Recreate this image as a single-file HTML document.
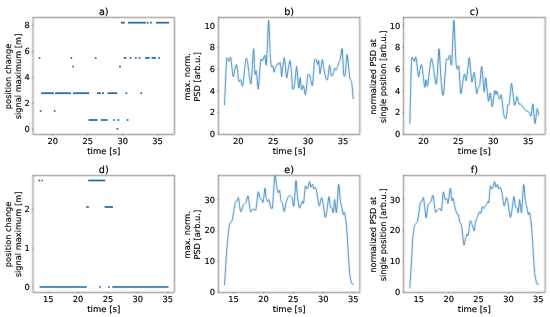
<!DOCTYPE html>
<html><head><meta charset="utf-8"><style>
html,body{margin:0;padding:0;background:#fff;}
body{width:550px;height:317px;overflow:hidden;}
svg{display:block;}
.sp{fill:none;stroke:#000;stroke-width:0.5;}
.tk{stroke:#000;stroke-width:0.6;}
.ln{fill:none;stroke:#1f77b4;stroke-width:0.95;stroke-linejoin:round;stroke-linecap:square;}
#tx text{font-family:"DejaVu Sans","Liberation Sans",sans-serif;font-size:8.5px;fill:#000;text-rendering:geometricPrecision;stroke:#000;stroke-width:0.15px;}
#tx text.tt{font-size:9.7px;}
#tx text.yl{font-size:8.25px;}
#tx text.tk2{font-size:8.3px;}
#sc line{stroke:#1a6aaa;stroke-width:1.7;stroke-linecap:butt;}
</style></head><body>
<svg width="550" height="317" viewBox="0 0 550 317">
<defs><filter id="bg" x="0" y="0" width="550" height="317" filterUnits="userSpaceOnUse" color-interpolation-filters="sRGB"><feConvolveMatrix order="3" kernelMatrix="0.0400 0.1200 0.0400 0.1200 0.3600 0.1200 0.0400 0.1200 0.0400" edgeMode="none" preserveAlpha="false"/></filter><filter id="bt" x="0" y="0" width="550" height="317" filterUnits="userSpaceOnUse" color-interpolation-filters="sRGB"><feConvolveMatrix order="3" kernelMatrix="0.0000 0.0000 0.0000 0.0000 1.0000 0.0000 0.0000 0.0000 0.0000" edgeMode="none" preserveAlpha="false"/></filter><filter id="bl" x="0" y="0" width="550" height="317" filterUnits="userSpaceOnUse" color-interpolation-filters="sRGB"><feConvolveMatrix order="3" kernelMatrix="0.0100 0.0800 0.0100 0.0800 0.6400 0.0800 0.0100 0.0800 0.0100" edgeMode="none" preserveAlpha="false"/></filter></defs>
<rect width="550" height="317" fill="#fff"/>
<g filter="url(#bg)">
<rect x="33" y="17.5" width="141.5" height="117" class="sp"/>
<rect x="218.4" y="17.5" width="141.5" height="117" class="sp"/>
<rect x="403.6" y="17.5" width="141.5" height="117" class="sp"/>
<rect x="33" y="175.4" width="141.5" height="117" class="sp"/>
<rect x="218.4" y="175.4" width="141.5" height="117" class="sp"/>
<rect x="403.6" y="175.4" width="141.5" height="117" class="sp"/>
<line x1="52.89" y1="134.5" x2="52.89" y2="135.5" class="tk"/>
<line x1="87.79" y1="134.5" x2="87.79" y2="135.5" class="tk"/>
<line x1="122.69" y1="134.5" x2="122.69" y2="135.5" class="tk"/>
<line x1="157.59" y1="134.5" x2="157.59" y2="135.5" class="tk"/>
<line x1="48.19" y1="292.4" x2="48.19" y2="293.4" class="tk"/>
<line x1="78.09" y1="292.4" x2="78.09" y2="293.4" class="tk"/>
<line x1="107.99" y1="292.4" x2="107.99" y2="293.4" class="tk"/>
<line x1="137.89" y1="292.4" x2="137.89" y2="293.4" class="tk"/>
<line x1="167.79" y1="292.4" x2="167.79" y2="293.4" class="tk"/>
<line x1="238.29" y1="134.5" x2="238.29" y2="135.5" class="tk"/>
<line x1="273.19" y1="134.5" x2="273.19" y2="135.5" class="tk"/>
<line x1="308.09" y1="134.5" x2="308.09" y2="135.5" class="tk"/>
<line x1="342.99" y1="134.5" x2="342.99" y2="135.5" class="tk"/>
<line x1="233.59" y1="292.4" x2="233.59" y2="293.4" class="tk"/>
<line x1="263.49" y1="292.4" x2="263.49" y2="293.4" class="tk"/>
<line x1="293.39" y1="292.4" x2="293.39" y2="293.4" class="tk"/>
<line x1="323.29" y1="292.4" x2="323.29" y2="293.4" class="tk"/>
<line x1="353.19" y1="292.4" x2="353.19" y2="293.4" class="tk"/>
<line x1="423.49" y1="134.5" x2="423.49" y2="135.5" class="tk"/>
<line x1="458.39" y1="134.5" x2="458.39" y2="135.5" class="tk"/>
<line x1="493.29" y1="134.5" x2="493.29" y2="135.5" class="tk"/>
<line x1="528.19" y1="134.5" x2="528.19" y2="135.5" class="tk"/>
<line x1="418.79" y1="292.4" x2="418.79" y2="293.4" class="tk"/>
<line x1="448.69" y1="292.4" x2="448.69" y2="293.4" class="tk"/>
<line x1="478.59" y1="292.4" x2="478.59" y2="293.4" class="tk"/>
<line x1="508.49" y1="292.4" x2="508.49" y2="293.4" class="tk"/>
<line x1="538.39" y1="292.4" x2="538.39" y2="293.4" class="tk"/>
<line x1="32" y1="129.1" x2="33" y2="129.1" class="tk"/>
<line x1="32" y1="103.15" x2="33" y2="103.15" class="tk"/>
<line x1="32" y1="77.2" x2="33" y2="77.2" class="tk"/>
<line x1="32" y1="51.25" x2="33" y2="51.25" class="tk"/>
<line x1="32" y1="25.3" x2="33" y2="25.3" class="tk"/>
<line x1="217.4" y1="134.05" x2="218.4" y2="134.05" class="tk"/>
<line x1="217.4" y1="112.4" x2="218.4" y2="112.4" class="tk"/>
<line x1="217.4" y1="90.75" x2="218.4" y2="90.75" class="tk"/>
<line x1="217.4" y1="69.1" x2="218.4" y2="69.1" class="tk"/>
<line x1="217.4" y1="47.45" x2="218.4" y2="47.45" class="tk"/>
<line x1="217.4" y1="25.8" x2="218.4" y2="25.8" class="tk"/>
<line x1="402.6" y1="134.05" x2="403.6" y2="134.05" class="tk"/>
<line x1="402.6" y1="112.4" x2="403.6" y2="112.4" class="tk"/>
<line x1="402.6" y1="90.75" x2="403.6" y2="90.75" class="tk"/>
<line x1="402.6" y1="69.1" x2="403.6" y2="69.1" class="tk"/>
<line x1="402.6" y1="47.45" x2="403.6" y2="47.45" class="tk"/>
<line x1="402.6" y1="25.8" x2="403.6" y2="25.8" class="tk"/>
<line x1="32" y1="286.8" x2="33" y2="286.8" class="tk"/>
<line x1="32" y1="248.1" x2="33" y2="248.1" class="tk"/>
<line x1="32" y1="209.4" x2="33" y2="209.4" class="tk"/>
<line x1="217.4" y1="292.2" x2="218.4" y2="292.2" class="tk"/>
<line x1="217.4" y1="261.37" x2="218.4" y2="261.37" class="tk"/>
<line x1="217.4" y1="230.54" x2="218.4" y2="230.54" class="tk"/>
<line x1="217.4" y1="199.71" x2="218.4" y2="199.71" class="tk"/>
<line x1="402.6" y1="292.2" x2="403.6" y2="292.2" class="tk"/>
<line x1="402.6" y1="261.37" x2="403.6" y2="261.37" class="tk"/>
<line x1="402.6" y1="230.54" x2="403.6" y2="230.54" class="tk"/>
<line x1="402.6" y1="199.71" x2="403.6" y2="199.71" class="tk"/>
</g>
<g filter="url(#bl)">
<path d="M224.5,104.6 C224.74,99.33 226.14,66.2 226.5,60.7 C226.86,55.2 227.22,58.7 227.5,58.8 C227.78,58.9 228.42,61.72 228.8,61.5 C229.18,61.28 230.32,56.22 230.7,57 C231.08,57.78 231.7,65.62 232,68 C232.3,70.38 232.88,76.54 233.2,76.8 C233.52,77.06 234.32,71.68 234.7,70.2 C235.08,68.72 236.06,64.52 236.4,64.5 C236.74,64.48 237.21,67.96 237.5,70 C237.79,72.04 238.42,80.35 238.8,81.5 C239.18,82.65 240.24,79.04 240.7,79.6 C241.16,80.16 242.14,87.33 242.6,86.2 C243.06,85.07 244.09,73.51 244.5,70.2 C244.91,66.89 245.66,59.76 246,58.6 C246.34,57.44 246.9,58.44 247.3,60.5 C247.7,62.56 248.84,73.05 249.3,75.8 C249.76,78.55 250.58,86.65 251.1,83.4 C251.62,80.15 253.14,49.83 253.6,48.7 C254.06,47.57 254.56,71.31 254.9,74 C255.24,76.69 255.99,69.29 256.4,71.1 C256.81,72.91 257.8,90.41 258.3,89.1 C258.8,87.79 260.1,63.57 260.6,60.2 C261.1,56.83 262,61.61 262.5,61 C263,60.39 264.33,54.68 264.8,55.1 C265.27,55.52 265.94,68.68 266.4,64.5 C266.86,60.32 268.16,21.73 268.6,20.3 C269.04,18.87 269.81,47.36 270.1,52.6 C270.39,57.84 270.78,62.26 271,64 C271.22,65.74 271.67,66.87 271.9,67.1 C272.13,67.33 272.64,65.29 272.9,65.9 C273.16,66.51 273.84,71.9 274.1,72.2 C274.36,72.5 274.87,69.08 275.1,68.4 C275.33,67.72 275.78,66.88 276,66.5 C276.22,66.12 276.67,65.58 276.9,65.2 C277.13,64.82 277.66,63.37 277.9,63.3 C278.14,63.23 278.67,64.67 278.9,64.6 C279.13,64.53 279.62,62.83 279.8,62.7 C279.98,62.57 280.17,61.83 280.4,63.5 C280.63,65.17 281.39,76.42 281.7,76.6 C282.01,76.78 282.7,67.27 283,65 C283.3,62.73 283.92,57.7 284.2,57.7 C284.48,57.7 285,62.56 285.3,65 C285.6,67.44 286.33,77.64 286.7,78 C287.07,78.36 287.99,70.09 288.4,68 C288.81,65.91 289.72,59.88 290.1,60.6 C290.48,61.32 291.3,70.58 291.6,74 C291.9,77.42 292.25,87.74 292.6,89.1 C292.95,90.46 294.01,88.04 294.5,85.3 C294.99,82.56 296.21,65.96 296.7,66.3 C297.19,66.64 298.18,86.73 298.6,88.1 C299.02,89.47 299.85,77.47 300.2,77.7 C300.55,77.93 301.12,89.09 301.5,90 C301.88,90.91 302.92,84.72 303.4,85.3 C303.88,85.88 304.98,95.94 305.5,94.8 C306.02,93.66 307.21,78.19 307.7,75.8 C308.19,73.41 309.25,74.44 309.6,74.9 C309.95,75.36 310.25,78.35 310.6,79.6 C310.95,80.85 312.04,87.53 312.5,85.3 C312.96,83.07 313.94,64.07 314.4,61 C314.86,57.93 315.92,59.28 316.3,59.7 C316.68,60.12 317.31,64.4 317.6,64.5 C317.89,64.6 318.41,59.37 318.7,60.5 C318.99,61.63 319.57,74.01 320,73.9 C320.43,73.79 321.84,60.27 322.3,59.6 C322.76,58.93 323.39,66.13 323.8,68.3 C324.21,70.47 325.24,76.34 325.7,77.7 C326.16,79.06 327.14,81.09 327.6,79.6 C328.06,78.11 329.04,65.76 329.5,65.3 C329.96,64.84 330.94,74.77 331.4,75.8 C331.86,76.83 332.92,74.8 333.3,73.9 C333.68,73 334.26,68.74 334.6,68.3 C334.94,67.86 335.74,70.43 336.1,70.2 C336.46,69.97 337.25,67.43 337.6,66.4 C337.95,65.37 338.68,62.51 339,61.6 C339.32,60.69 339.92,60.35 340.3,58.8 C340.68,57.25 341.79,46.89 342.2,48.7 C342.61,50.51 343.34,70.76 343.7,73.9 C344.06,77.04 344.79,77.24 345.2,74.9 C345.61,72.56 346.55,54.06 347.1,54.4 C347.65,54.74 349.25,74.34 349.8,77.7 C350.35,81.06 351.29,79.89 351.7,82.4 C352.11,84.91 353.02,96.66 353.2,98.6" class="ln"/>
<path d="M409.8,123.2 C410,115.8 411.14,69.25 411.5,61.5 C411.86,53.75 412.45,58.59 412.8,58.6 C413.15,58.61 414.03,61.78 414.4,61.6 C414.77,61.42 415.41,55.28 415.9,57.1 C416.39,58.92 418.01,75.35 418.5,76.8 C418.99,78.25 419.62,70.68 420,69.2 C420.38,67.72 421.32,63.71 421.7,64.5 C422.08,65.29 422.84,73.05 423.2,75.8 C423.56,78.55 424.35,86.94 424.7,87.4 C425.05,87.86 425.75,79.74 426.1,79.6 C426.45,79.46 427.19,87.33 427.6,86.2 C428.01,85.07 429.04,73.52 429.5,70.2 C429.96,66.88 430.94,58.96 431.4,58.5 C431.86,58.04 432.89,64.1 433.3,66.4 C433.71,68.7 434.39,75.66 434.8,77.7 C435.21,79.74 436.2,86.88 436.7,83.4 C437.2,79.92 438.5,49.38 439,48.7 C439.5,48.02 440.49,72.29 440.9,77.7 C441.31,83.11 442.06,91.98 442.4,93.8 C442.74,95.62 443.24,96.9 443.7,92.9 C444.16,88.9 445.67,64.48 446.2,60.5 C446.73,56.52 447.67,60.35 448.1,59.7 C448.53,59.05 449.37,54.52 449.8,55.1 C450.23,55.68 451.22,68.68 451.7,64.5 C452.18,60.32 453.28,20.53 453.8,20.3 C454.32,20.07 455.56,56.73 456,62.6 C456.44,68.47 457.15,68.74 457.5,69.2 C457.85,69.66 458.5,63.45 458.9,66.4 C459.3,69.35 460.28,92.22 460.8,93.8 C461.32,95.38 462.74,81.99 463.2,79.6 C463.66,77.21 464.22,73.78 464.6,73.9 C464.98,74.02 465.84,82.54 466.4,80.6 C466.96,78.66 468.65,57.53 469.3,57.7 C469.95,57.87 471.26,80.16 471.8,82 C472.34,83.84 473.45,73.96 473.8,73 C474.15,72.04 474.36,71.53 474.7,74 C475.04,76.47 476.14,92.02 476.6,93.6 C477.06,95.18 478.12,88.2 478.5,87.2 C478.88,86.2 479.42,87.8 479.8,85.3 C480.18,82.8 481.17,65.58 481.7,66.4 C482.23,67.22 483.72,90.74 484.2,92.1 C484.68,93.46 485.2,76.63 485.7,77.7 C486.2,78.77 487.85,99.18 488.4,101 C488.95,102.82 489.83,92.2 490.3,92.9 C490.77,93.6 491.78,107.06 492.3,106.8 C492.82,106.54 494.17,92.18 494.6,90.7 C495.03,89.22 495.62,94.44 495.9,94.5 C496.18,94.56 496.48,90.64 496.9,91.2 C497.32,91.76 498.87,98.74 499.4,99.2 C499.93,99.66 500.78,93.21 501.3,95 C501.82,96.79 503.14,111.24 503.7,114.1 C504.26,116.96 505.5,119.94 506,118.8 C506.5,117.66 507.49,106.41 507.9,104.6 C508.31,102.79 508.97,106.24 509.4,103.7 C509.83,101.16 510.89,83.2 511.5,83.4 C512.11,83.6 513.84,103.8 514.5,105.4 C515.16,107 516.47,96.82 517,96.7 C517.53,96.58 518.52,103.56 518.9,104.4 C519.28,105.24 519.59,103.22 520.2,103.7 C520.81,104.18 523.32,107.52 524,108.4 C524.68,109.28 525.44,110.66 525.9,111 C526.36,111.34 527.34,110.95 527.8,111.2 C528.26,111.45 529.32,112.52 529.7,113.1 C530.08,113.68 530.62,117.1 531,116 C531.38,114.9 532.42,102.99 532.9,103.9 C533.38,104.81 534.48,123.04 535,123.6 C535.52,124.16 536.77,109.63 537.2,108.6 C537.63,107.57 538.43,114.23 538.6,115" class="ln"/>
<path d="M224.5,284.8 C224.61,283.25 225.14,275.96 225.4,271.9 C225.66,267.84 226.34,255.67 226.7,251 C227.06,246.33 228.04,236.23 228.4,233 C228.76,229.77 229.24,225.62 229.7,224.1 C230.16,222.58 231.74,221.67 232.2,220.3 C232.66,218.93 233.12,214.86 233.5,212.7 C233.88,210.54 234.99,203.66 235.4,202.3 C235.81,200.94 236.53,201.96 236.9,201.4 C237.27,200.84 238.15,196.81 238.5,197.6 C238.85,198.39 239.49,206.3 239.8,208 C240.11,209.7 240.72,212.15 241.1,211.8 C241.48,211.45 242.59,206.01 243,205.1 C243.41,204.19 244.14,204.54 244.5,204.2 C244.86,203.86 245.59,203.32 246,202.3 C246.41,201.28 247.5,195.47 247.9,195.7 C248.3,195.93 248.98,202.27 249.3,204.2 C249.62,206.13 250.26,211.12 250.6,211.8 C250.94,212.48 251.69,210.25 252.1,209.9 C252.51,209.55 253.54,208.9 254,208.9 C254.46,208.9 255.4,211.94 255.9,209.9 C256.4,207.86 257.71,193.27 258.2,191.9 C258.69,190.53 259.59,197.59 260,198.5 C260.41,199.41 261.23,199.04 261.6,199.5 C261.97,199.96 262.69,203.67 263.1,202.3 C263.51,200.93 264.62,188.56 265,188.1 C265.38,187.64 265.99,196.9 266.3,198.5 C266.61,200.1 267.3,201.28 267.6,201.4 C267.9,201.52 268.43,198.83 268.8,199.5 C269.17,200.17 270.26,206.1 270.7,207 C271.14,207.9 272.01,210.73 272.5,207 C272.99,203.27 274.25,178.06 274.8,175.9 C275.35,173.74 276.69,186.97 277.1,189 C277.51,191.03 277.9,192.68 278.2,192.8 C278.5,192.92 279.28,189.09 279.6,190 C279.92,190.91 280.56,198.8 280.9,200.4 C281.24,202 281.99,201.93 282.4,203.3 C282.81,204.67 283.84,211.92 284.3,211.8 C284.76,211.68 285.66,204.23 286.2,202.3 C286.74,200.37 288.21,196.38 288.8,195.7 C289.39,195.02 290.69,196.26 291.1,196.6 C291.51,196.94 291.86,197.36 292.2,198.5 C292.54,199.64 293.44,208.26 293.9,206.1 C294.36,203.94 295.59,181.87 296,180.5 C296.41,179.13 296.92,191.4 297.3,194.7 C297.68,198 298.74,206.86 299.2,208 C299.66,209.14 300.72,204.99 301.1,204.2 C301.48,203.41 302.1,201.51 302.4,201.4 C302.7,201.29 303.25,205.12 303.6,203.3 C303.95,201.48 304.92,187.92 305.3,186.2 C305.68,184.48 306.46,188.88 306.8,189 C307.14,189.12 307.76,188.1 308.1,187.2 C308.44,186.3 309.26,181.5 309.6,181.5 C309.94,181.5 310.55,186.86 310.9,187.2 C311.25,187.54 312.15,184.08 312.5,184.3 C312.85,184.52 313.46,188.65 313.8,189 C314.14,189.35 314.96,186.97 315.3,187.2 C315.64,187.43 316.26,189.32 316.6,190.9 C316.94,192.48 317.75,198.58 318.1,200.4 C318.45,202.22 319.1,206.44 319.5,206.1 C319.9,205.76 320.99,198.06 321.4,197.6 C321.81,197.14 322.43,199.91 322.9,202.3 C323.37,204.69 324.81,216.59 325.3,217.5 C325.79,218.41 326.57,212.41 327,209.9 C327.43,207.39 328.48,196.95 328.9,196.6 C329.32,196.25 330.13,205.63 330.5,207 C330.87,208.37 331.66,207.32 332,208 C332.34,208.68 332.99,213.72 333.3,212.7 C333.61,211.68 334.22,199.5 334.6,199.5 C334.98,199.5 336.02,214.52 336.5,212.7 C336.98,210.88 338.14,185.78 338.6,184.3 C339.06,182.82 339.92,197.68 340.3,200.4 C340.68,203.12 341.44,205.3 341.8,207 C342.16,208.7 342.96,213.92 343.3,214.6 C343.64,215.28 344.2,211.22 344.6,212.7 C345,214.18 346.16,222.02 346.6,226.9 C347.04,231.78 347.92,247.74 348.3,253.4 C348.68,259.06 349.37,270.44 349.8,274.1 C350.23,277.76 351.47,282.76 351.9,283.9 C352.33,285.04 353.22,283.64 353.4,283.6" class="ln"/>
<path d="M409.8,288 C409.99,284.93 411.04,268.41 411.4,262.4 C411.76,256.39 412.44,242.21 412.8,237.9 C413.16,233.59 414.05,228.17 414.4,226.5 C414.75,224.83 415.33,224.64 415.7,224 C416.07,223.36 417.09,222.7 417.5,221.2 C417.91,219.7 418.75,213.77 419.1,211.5 C419.45,209.23 420.06,203.51 420.4,202.3 C420.74,201.09 421.53,201.96 421.9,201.4 C422.27,200.84 423.15,196.81 423.5,197.6 C423.85,198.39 424.49,205.56 424.8,208 C425.11,210.44 425.72,218.25 426.1,217.9 C426.48,217.55 427.59,206.85 428,205.1 C428.41,203.35 429.14,203.74 429.5,203.3 C429.86,202.86 430.59,202.38 431,201.4 C431.41,200.42 432.5,194.76 432.9,195.1 C433.3,195.44 433.98,202.15 434.3,204.2 C434.62,206.25 435.22,211.52 435.6,212.2 C435.98,212.88 436.98,210.34 437.5,209.9 C438.02,209.46 439.42,208.46 439.9,208.5 C440.38,208.54 441.09,212.19 441.5,210.2 C441.91,208.21 442.88,193.18 443.3,191.9 C443.72,190.62 444.6,198.71 445,199.5 C445.4,200.29 446.23,198.04 446.6,198.5 C446.97,198.96 447.66,204.55 448.1,203.3 C448.54,202.05 449.84,188.45 450.3,188.1 C450.76,187.75 451.55,199.15 451.9,200.4 C452.25,201.65 452.82,197.59 453.2,198.5 C453.58,199.41 454.64,206.15 455.1,208 C455.56,209.85 456.62,213.11 457,213.9 C457.38,214.69 457.96,213.63 458.3,214.6 C458.64,215.57 459.44,220.8 459.8,222 C460.16,223.2 460.95,223.04 461.3,224.6 C461.65,226.16 462.38,232.54 462.7,235 C463.02,237.46 463.66,244.64 464,245.1 C464.34,245.56 465.14,240.12 465.5,238.8 C465.86,237.48 466.66,234.56 467,234.1 C467.34,233.64 467.92,236.6 468.3,235 C468.68,233.4 469.74,222.05 470.2,220.8 C470.66,219.55 471.7,223.57 472.1,224.6 C472.5,225.63 473.25,228.67 473.5,229.4 C473.75,230.13 473.94,231.68 474.2,230.7 C474.46,229.72 475.29,222.9 475.7,221.2 C476.11,219.5 477.14,217.63 477.6,216.5 C478.06,215.37 479.12,212.18 479.5,211.8 C479.88,211.42 480.46,213.91 480.8,213.3 C481.14,212.69 481.96,207.28 482.3,206.7 C482.64,206.12 483.25,208.57 483.6,208.5 C483.95,208.43 484.83,206.62 485.2,206.1 C485.57,205.58 486.36,204.76 486.7,204.2 C487.04,203.64 487.74,201.63 488,201.4 C488.26,201.17 488.62,204.12 488.9,202.3 C489.18,200.48 489.95,187.8 490.3,186.2 C490.65,184.6 491.46,188.88 491.8,189 C492.14,189.12 492.76,188.1 493.1,187.2 C493.44,186.3 494.26,181.5 494.6,181.5 C494.94,181.5 495.55,186.86 495.9,187.2 C496.25,187.54 497.15,184.08 497.5,184.3 C497.85,184.52 498.46,188.65 498.8,189 C499.14,189.35 499.96,186.97 500.3,187.2 C500.64,187.43 501.26,189.32 501.6,190.9 C501.94,192.48 502.75,198.58 503.1,200.4 C503.45,202.22 504.1,206.44 504.5,206.1 C504.9,205.76 505.99,198.06 506.4,197.6 C506.81,197.14 507.43,199.91 507.9,202.3 C508.37,204.69 509.81,216.59 510.3,217.5 C510.79,218.41 511.57,212.41 512,209.9 C512.43,207.39 513.48,196.95 513.9,196.6 C514.32,196.25 515.13,205.63 515.5,207 C515.87,208.37 516.66,207.32 517,208 C517.34,208.68 517.99,213.72 518.3,212.7 C518.61,211.68 519.22,199.5 519.6,199.5 C519.98,199.5 521.02,214.52 521.5,212.7 C521.98,210.88 523.14,185.78 523.6,184.3 C524.06,182.82 524.92,197.68 525.3,200.4 C525.68,203.12 526.44,205.3 526.8,207 C527.16,208.7 527.96,213.92 528.3,214.6 C528.64,215.28 529.2,211.22 529.6,212.7 C530,214.18 531.16,222.02 531.6,226.9 C532.04,231.78 532.92,247.74 533.3,253.4 C533.68,259.06 534.37,270.44 534.8,274.1 C535.23,277.76 536.47,282.76 536.9,283.9 C537.33,285.04 538.22,283.64 538.4,283.6" class="ln"/>
</g>
<g id="tx">
<text x="52.89" y="143.6" class="tk2" text-anchor="middle">20</text>
<text x="87.79" y="143.6" class="tk2" text-anchor="middle">25</text>
<text x="122.69" y="143.6" class="tk2" text-anchor="middle">30</text>
<text x="157.59" y="143.6" class="tk2" text-anchor="middle">35</text>
<text x="103.75" y="153.9" text-anchor="middle">time [s]</text>
<text x="48.19" y="301.5" class="tk2" text-anchor="middle">15</text>
<text x="78.09" y="301.5" class="tk2" text-anchor="middle">20</text>
<text x="107.99" y="301.5" class="tk2" text-anchor="middle">25</text>
<text x="137.89" y="301.5" class="tk2" text-anchor="middle">30</text>
<text x="167.79" y="301.5" class="tk2" text-anchor="middle">35</text>
<text x="103.75" y="311.8" text-anchor="middle">time [s]</text>
<text x="238.29" y="143.6" class="tk2" text-anchor="middle">20</text>
<text x="273.19" y="143.6" class="tk2" text-anchor="middle">25</text>
<text x="308.09" y="143.6" class="tk2" text-anchor="middle">30</text>
<text x="342.99" y="143.6" class="tk2" text-anchor="middle">35</text>
<text x="289.15" y="153.9" text-anchor="middle">time [s]</text>
<text x="233.59" y="301.5" class="tk2" text-anchor="middle">15</text>
<text x="263.49" y="301.5" class="tk2" text-anchor="middle">20</text>
<text x="293.39" y="301.5" class="tk2" text-anchor="middle">25</text>
<text x="323.29" y="301.5" class="tk2" text-anchor="middle">30</text>
<text x="353.19" y="301.5" class="tk2" text-anchor="middle">35</text>
<text x="289.15" y="311.8" text-anchor="middle">time [s]</text>
<text x="423.49" y="143.6" class="tk2" text-anchor="middle">20</text>
<text x="458.39" y="143.6" class="tk2" text-anchor="middle">25</text>
<text x="493.29" y="143.6" class="tk2" text-anchor="middle">30</text>
<text x="528.19" y="143.6" class="tk2" text-anchor="middle">35</text>
<text x="474.35" y="153.9" text-anchor="middle">time [s]</text>
<text x="418.79" y="301.5" class="tk2" text-anchor="middle">15</text>
<text x="448.69" y="301.5" class="tk2" text-anchor="middle">20</text>
<text x="478.59" y="301.5" class="tk2" text-anchor="middle">25</text>
<text x="508.49" y="301.5" class="tk2" text-anchor="middle">30</text>
<text x="538.39" y="301.5" class="tk2" text-anchor="middle">35</text>
<text x="474.35" y="311.8" text-anchor="middle">time [s]</text>
<text x="29.7" y="131.95" class="tk2" text-anchor="end">0</text>
<text x="29.7" y="106" class="tk2" text-anchor="end">2</text>
<text x="29.7" y="80.05" class="tk2" text-anchor="end">4</text>
<text x="29.7" y="54.1" class="tk2" text-anchor="end">6</text>
<text x="29.7" y="28.15" class="tk2" text-anchor="end">8</text>
<text x="215.1" y="136.9" class="tk2" text-anchor="end">0</text>
<text x="215.1" y="115.25" class="tk2" text-anchor="end">2</text>
<text x="215.1" y="93.6" class="tk2" text-anchor="end">4</text>
<text x="215.1" y="71.95" class="tk2" text-anchor="end">6</text>
<text x="215.1" y="50.3" class="tk2" text-anchor="end">8</text>
<text x="215.1" y="28.65" class="tk2" text-anchor="end">10</text>
<text x="400.3" y="136.9" class="tk2" text-anchor="end">0</text>
<text x="400.3" y="115.25" class="tk2" text-anchor="end">2</text>
<text x="400.3" y="93.6" class="tk2" text-anchor="end">4</text>
<text x="400.3" y="71.95" class="tk2" text-anchor="end">6</text>
<text x="400.3" y="50.3" class="tk2" text-anchor="end">8</text>
<text x="400.3" y="28.65" class="tk2" text-anchor="end">10</text>
<text x="29.7" y="289.65" class="tk2" text-anchor="end">0</text>
<text x="29.7" y="250.95" class="tk2" text-anchor="end">1</text>
<text x="29.7" y="212.25" class="tk2" text-anchor="end">2</text>
<text x="215.1" y="295.05" class="tk2" text-anchor="end">0</text>
<text x="215.1" y="264.22" class="tk2" text-anchor="end">10</text>
<text x="215.1" y="233.39" class="tk2" text-anchor="end">20</text>
<text x="215.1" y="202.56" class="tk2" text-anchor="end">30</text>
<text x="400.3" y="295.05" class="tk2" text-anchor="end">0</text>
<text x="400.3" y="264.22" class="tk2" text-anchor="end">10</text>
<text x="400.3" y="233.39" class="tk2" text-anchor="end">20</text>
<text x="400.3" y="202.56" class="tk2" text-anchor="end">30</text>
<text transform="translate(11.3,76.5) rotate(-90)" class="yl" text-anchor="middle">position change</text>
<text transform="translate(21.1,76.5) rotate(-90)" class="yl" text-anchor="middle">signal maximum [m]</text>
<text transform="translate(190.2,76.8) rotate(-90)" class="yl" text-anchor="middle">max. norm.</text>
<text transform="translate(200.2,76.8) rotate(-90)" class="yl" text-anchor="middle">PSD [arb.u.]</text>
<text transform="translate(376.1,76.9) rotate(-90)" class="yl" text-anchor="middle">normalized PSD at</text>
<text transform="translate(385.9,76.9) rotate(-90)" class="yl" text-anchor="middle">single position [arb.u.]</text>
<text transform="translate(11.3,234.4) rotate(-90)" class="yl" text-anchor="middle">position change</text>
<text transform="translate(21.1,234.4) rotate(-90)" class="yl" text-anchor="middle">signal maximum [m]</text>
<text transform="translate(190.2,234.7) rotate(-90)" class="yl" text-anchor="middle">max. norm.</text>
<text transform="translate(200.2,234.7) rotate(-90)" class="yl" text-anchor="middle">PSD [arb.u.]</text>
<text transform="translate(376.1,234.8) rotate(-90)" class="yl" text-anchor="middle">normalized PSD at</text>
<text transform="translate(385.9,234.8) rotate(-90)" class="yl" text-anchor="middle">single position [arb.u.]</text>
<text x="103.75" y="14.65" class="tt" text-anchor="middle">a)</text>
<text x="289.15" y="14.65" class="tt" text-anchor="middle">b)</text>
<text x="474.35" y="14.65" class="tt" text-anchor="middle">c)</text>
<text x="103.75" y="172.6" class="tt" text-anchor="middle">d)</text>
<text x="289.15" y="172.6" class="tt" text-anchor="middle">e)</text>
<text x="474.35" y="172.6" class="tt" text-anchor="middle">f)</text>
</g>
<g id="sc">
<line x1="120.9" y1="22.7" x2="124.7" y2="22.7"/>
<line x1="128" y1="22.7" x2="145.9" y2="22.7"/>
<line x1="146.75" y1="22.7" x2="148.45" y2="22.7"/>
<line x1="150.1" y1="22.7" x2="151.8" y2="22.7"/>
<line x1="156" y1="22.7" x2="169" y2="22.7"/>
<line x1="38.65" y1="58" x2="40.35" y2="58"/>
<line x1="70.45" y1="58" x2="72.15" y2="58"/>
<line x1="94.85" y1="58" x2="96.55" y2="58"/>
<line x1="123.8" y1="58" x2="126.4" y2="58"/>
<line x1="129.65" y1="58" x2="131.35" y2="58"/>
<line x1="134.95" y1="58" x2="136.65" y2="58"/>
<line x1="138.75" y1="58" x2="140.45" y2="58"/>
<line x1="145" y1="58" x2="149.7" y2="58"/>
<line x1="151.6" y1="58" x2="156" y2="58"/>
<line x1="158.35" y1="58" x2="160.05" y2="58"/>
<line x1="72.35" y1="66.6" x2="74.05" y2="66.6"/>
<line x1="119.15" y1="66.6" x2="120.85" y2="66.6"/>
<line x1="41.2" y1="93.2" x2="53.8" y2="93.2"/>
<line x1="55.1" y1="93.2" x2="70.9" y2="93.2"/>
<line x1="73.1" y1="93.2" x2="89.2" y2="93.2"/>
<line x1="97" y1="93.2" x2="100.8" y2="93.2"/>
<line x1="102" y1="93.2" x2="103.9" y2="93.2"/>
<line x1="107.5" y1="93.2" x2="117.2" y2="93.2"/>
<line x1="125.55" y1="93.2" x2="127.25" y2="93.2"/>
<line x1="140.35" y1="93.2" x2="142.05" y2="93.2"/>
<line x1="39.75" y1="111" x2="41.45" y2="111"/>
<line x1="53.85" y1="111" x2="55.55" y2="111"/>
<line x1="88.5" y1="120" x2="97.6" y2="120"/>
<line x1="100.8" y1="120" x2="107.7" y2="120"/>
<line x1="113.15" y1="120" x2="114.85" y2="120"/>
<line x1="117.55" y1="120" x2="119.25" y2="120"/>
<line x1="126.75" y1="120" x2="128.45" y2="120"/>
<line x1="116.55" y1="128.9" x2="118.25" y2="128.9"/>
<line x1="38.5" y1="180.5" x2="40.3" y2="180.5"/>
<line x1="41.5" y1="180.5" x2="43" y2="180.5"/>
<line x1="88.2" y1="180.5" x2="105.2" y2="180.5"/>
<line x1="86.3" y1="207" x2="88.8" y2="207"/>
<line x1="104.6" y1="207" x2="113" y2="207"/>
<line x1="39.5" y1="287" x2="86.8" y2="287"/>
<line x1="99.05" y1="287" x2="100.75" y2="287"/>
<line x1="108.15" y1="287" x2="109.85" y2="287"/>
<line x1="112.3" y1="287" x2="168.5" y2="287"/>
</g>
</svg>
</body></html>
